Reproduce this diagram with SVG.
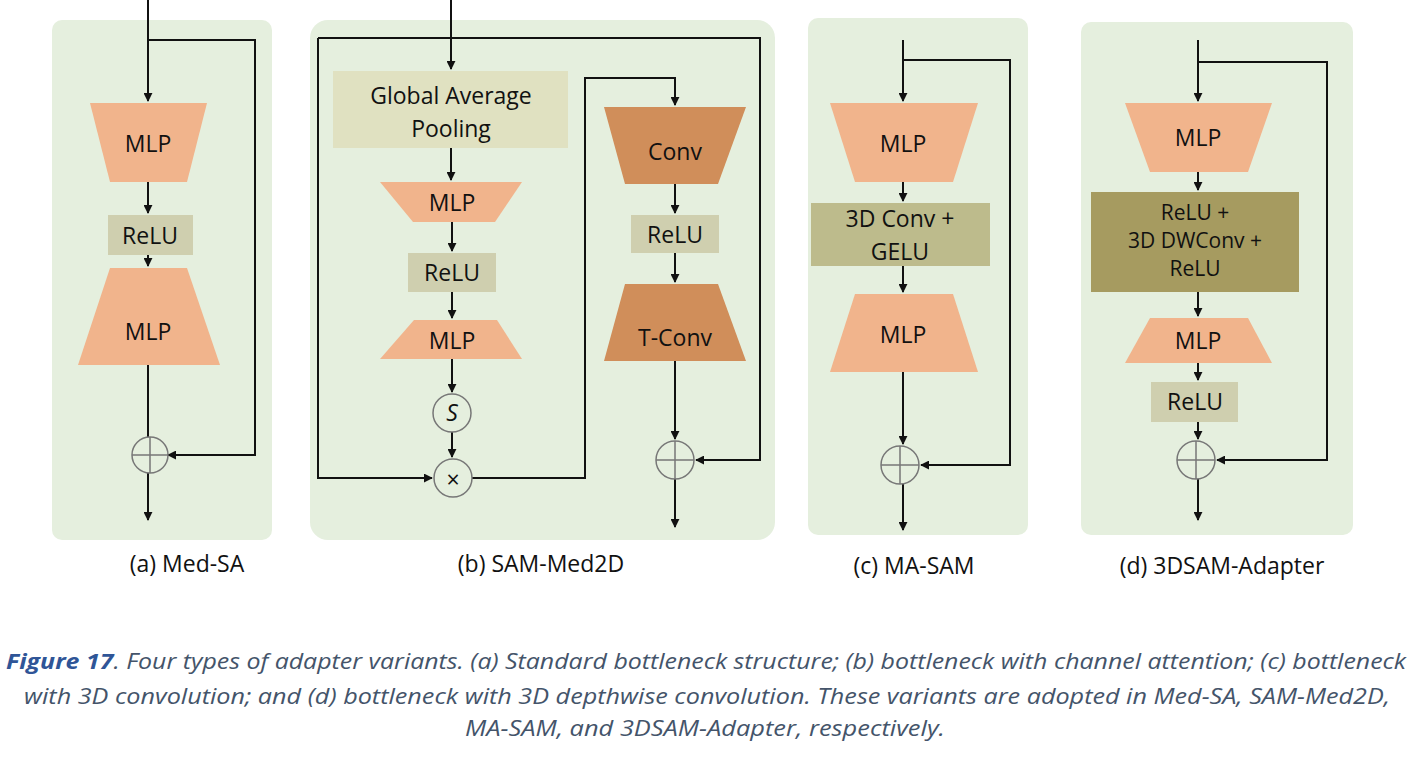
<svg xmlns="http://www.w3.org/2000/svg" width="1426" height="769" viewBox="0 0 1426 769">
<defs>
<marker id="ar" viewBox="0 0 10 10" refX="9" refY="5" markerWidth="9" markerHeight="9" markerUnits="userSpaceOnUse" orient="auto"><path d="M0,0L10,5L0,10z" fill="#111"/></marker>
<style>
.bg{fill:#E5EFDE}
.mlp{fill:#F1B48C}
.cv{fill:#D08E5A}
.relu{fill:#CFCFAF}
.t{font-family:"Open Sans","Noto Sans",sans-serif;font-size:23px;fill:#111;text-anchor:middle}
.td{font-family:"Open Sans","Noto Sans",sans-serif;font-size:21px;fill:#111;text-anchor:middle}
.lb{font-family:"Open Sans","Noto Sans",sans-serif;font-size:23px;fill:#111;text-anchor:middle}
.c{fill:none;stroke:#111;stroke-width:2;marker-end:url(#ar)}
.l{fill:none;stroke:#111;stroke-width:2}
.o{fill:none;stroke:#777;stroke-width:1.5}
.cap{font-family:"Open Sans","Noto Sans",sans-serif;font-style:italic;font-size:21px;fill:#44546A;text-anchor:middle}
</style>
</defs>
<rect class="bg" x="52" y="20" width="220" height="520" rx="10"/>
<rect class="bg" x="310" y="20" width="465" height="520" rx="18"/>
<rect class="bg" x="808" y="18" width="220" height="517" rx="10"/>
<rect class="bg" x="1081" y="22" width="272" height="513" rx="10"/>

<g id="connectors">
<path class="c" d="M148,0V101"/><path class="c" d="M148,182V213"/><path class="c" d="M148,255V266"/><path class="l" d="M148,365V437"/><path class="c" d="M148,473V520"/>
<path class="c" d="M148,40H255V455H168"/>
<path class="c" d="M451,0V69"/><path class="c" d="M451,148V180"/><path class="c" d="M452,222V251"/><path class="c" d="M452,292V318"/><path class="c" d="M452,359V392"/><path class="c" d="M452,432V457"/>
<path class="c" d="M318,38V478H432"/><path class="c" d="M318,38H760V460H696"/>
<path class="c" d="M472,478H585V78H675V105"/>
<path class="c" d="M675,184V213"/><path class="c" d="M675,253V282"/><path class="c" d="M675,361V439"/><path class="c" d="M675,479V527"/>
<path class="c" d="M903,40V101"/><path class="c" d="M903,182V201"/><path class="c" d="M903,266V292"/><path class="c" d="M903,372V444"/><path class="c" d="M903,484V530"/>
<path class="c" d="M903,60H1010V465H921"/>
<path class="c" d="M1198,40V101"/><path class="c" d="M1198,172V190"/><path class="c" d="M1198,292V316"/><path class="c" d="M1198,363V380"/><path class="c" d="M1198,422V439"/><path class="c" d="M1198,479V520"/>
<path class="c" d="M1198,62H1327V460H1217"/>
</g>

<g id="a-mlp1"><polygon class="mlp" points="90,103 207,103 187,182 110,182"/><text class="t" x="148" y="152">MLP</text></g>
<g id="a-relu"><rect class="relu" x="108" y="215" width="85" height="40"/><text class="t" x="150" y="244">ReLU</text></g>
<g id="a-mlp2"><polygon class="mlp" points="110,268 187,268 220,365 78,365"/><text class="t" x="148" y="340">MLP</text></g>
<g id="a-add"><circle class="o" cx="150" cy="455" r="18"/><path class="o" d="M132,455H168M150,437V473"/></g>
<text class="lb" x="187" y="572">(a) Med-SA</text>

<g id="b-gap"><rect x="333" y="71" width="235" height="77" fill="#E0E1C1"/><text class="t" x="451" y="104">Global Average</text><text class="t" x="451" y="137">Pooling</text></g>
<g id="b-mlp1"><polygon class="mlp" points="380,182 522,182 495,222 413,222"/><text class="t" x="452" y="211">MLP</text></g>
<g id="b-relu"><rect class="relu" x="408" y="253" width="88" height="39"/><text class="t" x="452" y="281">ReLU</text></g>
<g id="b-mlp2"><polygon class="mlp" points="414,320 497,320 522,359 380,359"/><text class="t" x="452" y="349">MLP</text></g>
<g id="b-s"><circle class="o" cx="452" cy="413" r="19"/><text class="t" x="452" y="421" font-style="italic">S</text></g>
<g id="b-mul"><circle class="o" cx="453" cy="478" r="19"/><text class="t" x="453" y="488" font-size="30">×</text></g>
<g id="b-conv"><polygon class="cv" points="604,107 746,107 718,184 625,184"/><text class="t" x="675" y="160">Conv</text></g>
<g id="b-relu2"><rect class="relu" x="631" y="215" width="88" height="38"/><text class="t" x="675" y="243">ReLU</text></g>
<g id="b-tconv"><polygon class="cv" points="625,284 718,284 746,361 604,361"/><text class="t" x="675" y="346">T-Conv</text></g>
<g id="b-add"><circle class="o" cx="675" cy="460" r="19"/><path class="o" d="M656,460H694M675,441V479"/></g>
<text class="lb" x="541" y="572">(b) SAM-Med2D</text>

<g id="c-mlp1"><polygon class="mlp" points="830,103 978,103 953,182 855,182"/><text class="t" x="903" y="152">MLP</text></g>
<g id="c-conv"><rect x="811" y="203" width="179" height="63" fill="#BDBB8C"/><text class="t" x="900" y="227">3D Conv +</text><text class="t" x="900" y="260">GELU</text></g>
<g id="c-mlp2"><polygon class="mlp" points="855,294 953,294 978,372 830,372"/><text class="t" x="903" y="343">MLP</text></g>
<g id="c-add"><circle class="o" cx="900" cy="465" r="19"/><path class="o" d="M881,465H919M900,446V484"/></g>
<text class="lb" x="914" y="574">(c) MA-SAM</text>

<g id="d-mlp1"><polygon class="mlp" points="1125,103 1272,103 1248,172 1150,172"/><text class="t" x="1198" y="146">MLP</text></g>
<g id="d-dw"><rect x="1091" y="192" width="208" height="100" fill="#A69B60"/><text class="td" x="1195" y="220">ReLU +</text><text class="td" x="1195" y="248">3D DWConv +</text><text class="td" x="1195" y="276">ReLU</text></g>
<g id="d-mlp2"><polygon class="mlp" points="1150,318 1248,318 1272,363 1125,363"/><text class="t" x="1198" y="349">MLP</text></g>
<g id="d-relu"><rect class="relu" x="1151" y="382" width="87" height="40"/><text class="t" x="1195" y="410">ReLU</text></g>
<g id="d-add"><circle class="o" cx="1196" cy="460" r="19"/><path class="o" d="M1177,460H1215M1196,441V479"/></g>
<text class="lb" x="1222" y="574">(d) 3DSAM-Adapter</text>

<text class="cap" x="706" y="669" textLength="1400" lengthAdjust="spacingAndGlyphs"><tspan font-weight="bold" fill="#2F5597">Figure 17</tspan>. Four types of adapter variants. (a) Standard bottleneck structure; (b) bottleneck with channel attention; (c) bottleneck</text>
<text class="cap" x="707" y="704" textLength="1366" lengthAdjust="spacingAndGlyphs">with 3D convolution; and (d) bottleneck with 3D depthwise convolution. These variants are adopted in Med-SA, SAM-Med2D,</text>
<text class="cap" x="705" y="736" textLength="480" lengthAdjust="spacingAndGlyphs">MA-SAM, and 3DSAM-Adapter, respectively.</text>
</svg>
